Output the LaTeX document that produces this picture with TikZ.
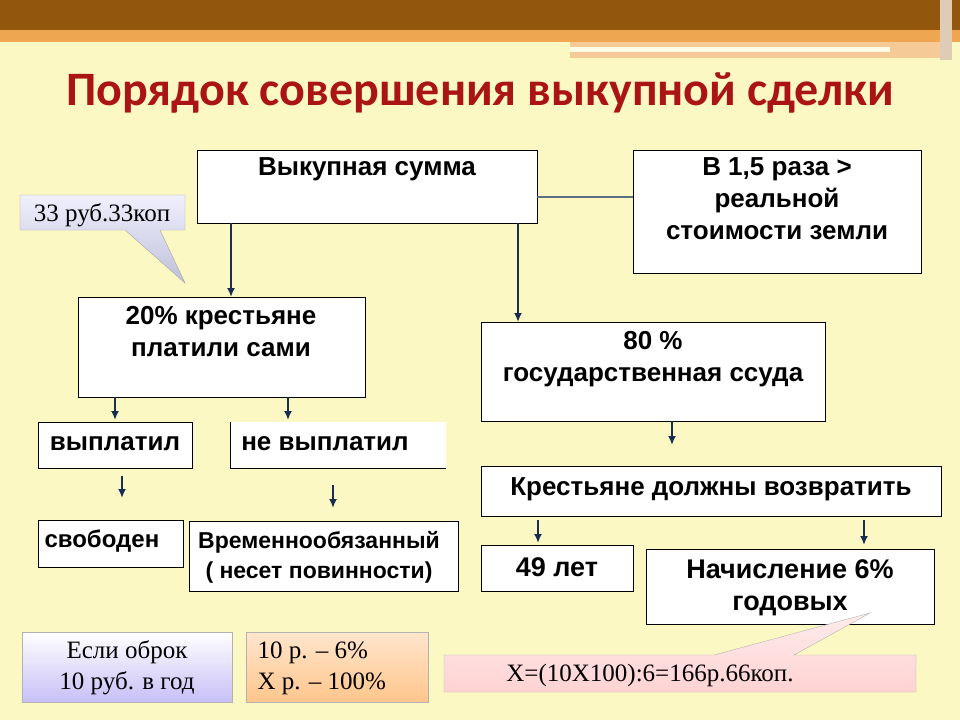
\documentclass[tikz,border=0pt]{standalone}
\usepackage{fontspec}
\setmainfont{Liberation Sans}
\newfontfamily\serifrm{Liberation Serif}
\newfontfamily\titlefont{Carlito}
\usetikzlibrary{arrows.meta}
\definecolor{bg}{RGB}{252,248,196}
\definecolor{brown}{RGB}{146,86,12}
\definecolor{orng}{RGB}{238,166,80}
\definecolor{ttl}{RGB}{170,20,20}
\definecolor{arr}{RGB}{25,45,80}
\tikzset{x=1pt,y=-1pt,
 bx/.style={draw=black,fill=white,line width=1pt},
 lb/.style={font=\bfseries\fontsize{26}{32}\selectfont,align=center},
 ar/.style={-{Latex[length=9pt,width=8pt]},line width=2.2pt,draw=arr},
 cl/.style={font=\serifrm\fontsize{25}{31}\selectfont,align=center}}
\begin{document}
\begin{tikzpicture}
\useasboundingbox (0,0) rectangle (960,720);
\fill[bg] (0,0) rectangle (960,720);
\fill[brown] (0,0) rectangle (960,30);
\fill[orng] (0,30) rectangle (960,42);
\fill[orng!60] (570,42) rectangle (940,58);
\fill[white!60!bg] (570,47) rectangle (890,52);
\fill[white!70!brown] (940,0) rectangle (952,60);
\node[font=\titlefont\bfseries\fontsize{48}{54}\selectfont,text=ttl] (title) at (480,93) {Порядок совершения выкупной сделки};
% top boxes
\node[bx,minimum width=340,minimum height=73,anchor=north west] (vs) at (197,150) {};
\node[lb,anchor=north] at (367,154) {Выкупная сумма};
\node[bx,minimum width=288,minimum height=123,anchor=north west] (rz) at (633,150) {};
\node[lb,anchor=north] at (777,154) {В 1,5 раза >\\реальной\\стоимости земли};
\draw[line width=2.5pt,draw=arr!70] (537,197) coordinate (c1) -- (633,197) coordinate (c2);
% callout
\shade[top color=white!85!blue!40,bottom color=blue!25!gray!40,draw=gray!70]
 (20,195) -- (185,195) -- (185,230) -- (160,230) -- (185,283) -- (125,230) -- (20,230) -- cycle;
\node[cl] (c33) at (102,215) {33 руб.33коп};
% 20% and 80%
\node[bx,minimum width=287,minimum height=100,anchor=north west] (p20) at (78,297) {};
\node[lb,anchor=north] at (221,303) {20\% крестьяне\\платили сами};
\node[bx,minimum width=344,minimum height=99,anchor=north west] (p80) at (481,322) {};
\node[lb,anchor=north] at (653,328) {80 \%\\государственная ссуда};
\draw[ar] (231,223) -- (231,297);
\draw[ar] (518,223) -- (518,322);
% level 3
\node[bx,minimum width=154,minimum height=46,anchor=north west] (vy) at (38,422) {};
\node[lb] at (115,444) {выплатил};
\fill[white] (230,422) rectangle (446,468);
\draw[line width=1pt] (446,468)--(230,468)--(230,422);
\node[lb] (nv) at (325,444) {не выплатил};
\draw[ar] (115,397) -- (115,420);
\draw[ar] (288,397) -- (288,420);
\node[bx,minimum width=145,minimum height=47,anchor=north west] (sv) at (38,520) {};
\node[lb,anchor=north west,font=\bfseries\fontsize{24}{26}\selectfont] at (41,526) {свободен};
\node[bx,minimum width=269,minimum height=70,anchor=north west] (vr) at (189,521) {};
\node[lb,font=\bfseries\fontsize{23}{30}\selectfont] at (319,557) {Временнообязанный\\ ( несет повинности)};
\draw[ar] (122,476) -- (122,498);
\draw[ar] (333,485) -- (333,508);
% right side
\draw[ar] (672,421) -- (672,445);
\node[bx,minimum width=460,minimum height=50,anchor=north west] (kd) at (481,466) {};
\node[lb] at (711,489) {Крестьяне должны возвратить};
\draw[ar] (538,520) -- (538,543);
\draw[ar] (864,520) -- (864,545);
\node[bx,minimum width=152,minimum height=46,anchor=north west] (l49) at (481,545) {};
\node[lb,font=\bfseries\fontsize{27}{30}\selectfont] at (557,567) {49 лет};
\node[bx,minimum width=288,minimum height=75,anchor=north west] (nc) at (646,549) {};
\node[lb,font=\bfseries\fontsize{27}{32}\selectfont] at (790,588) {Начисление 6\%\\годовых};
% bottom
\shade[top color=white,bottom color=violet!25!blue!25,draw=gray!60] (22,632) rectangle (232,702);
\node[cl] (ob) at (127,668) {Если оброк\\10 руб. в год};
\shade[top color=white!80!orange,bottom color=orange!45,draw=gray!60] (246,632) rectangle (428,702);
\node[cl,align=left,anchor=west] (pr) at (254,668) {10 р. – 6\%\\X р. – 100\%};
\shade[top color=pink!30,bottom color=pink!70,draw=gray!60]
 (444,655) -- (714,655) -- (870,613) -- (794,655) -- (916,655) -- (916,692) -- (444,692) -- cycle;
\node[cl] (fx) at (650,675) {X=(10X100):6=166р.66коп.};
\end{tikzpicture}
\end{document}
